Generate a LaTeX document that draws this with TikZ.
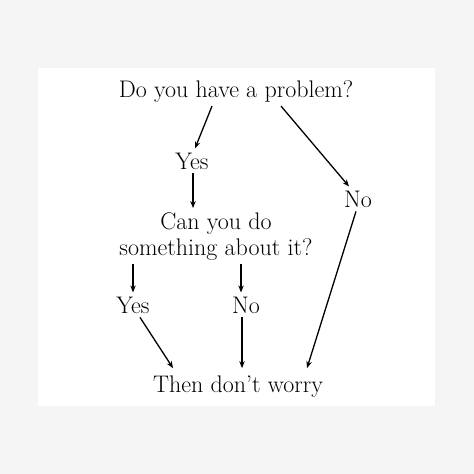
\documentclass[tikz,border=0pt]{standalone}
\usetikzlibrary{arrows.meta}
\definecolor{bggray}{HTML}{F5F5F5}
\begin{document}
\begin{tikzpicture}[x=1pt,y=-1pt,
  lbl/.style={anchor=base,inner sep=4pt,font=\fontsize{24}{26}\selectfont,align=center},
  arr/.style={line width=1.3pt,-{Stealth[length=7pt,width=5.5pt]}}]
\useasboundingbox (0,0) rectangle (474,474);
\fill[bggray] (0,0) rectangle (474,474);
\fill[white] (38,68) rectangle (435,406);
\node[lbl] (q) at (236,97) {Do you have a problem?};
\node[lbl] (y1) at (192,169) {Yes};
\node[lbl] (n1) at (358,207) {No};
\node[lbl] (c) at (216,255) {Can you do\\something about it?};
\node[lbl] (y2) at (133,313) {Yes};
\node[lbl] (n2) at (246,313) {No};
\node[lbl,inner ysep=7pt] (t) at (238,392) {Then don't worry};
\draw[arr] ([xshift=-24pt]q.south) -- ([xshift=3pt]y1.north);
\draw[arr] ([xshift=45pt]q.south) -- ([xshift=-9pt]n1.north);
\draw[arr] ([xshift=1pt]y1.south) -- ([xshift=1pt]y1.south |- c.north);
\draw[arr] (c.south -| y2) -- (y2.north);
\draw[arr] ([xshift=-5pt]c.south -| n2) -- ([xshift=-5pt]n2.north);
\draw[arr] ([xshift=7pt]y2.south) -- ([xshift=-65pt]t.north);
\draw[arr] ([xshift=-4pt]n2.south) -- ([xshift=4pt]t.north);
\draw[arr] ([xshift=-2pt]n1.south) -- ([xshift=69pt]t.north);
\end{tikzpicture}
\end{document}
